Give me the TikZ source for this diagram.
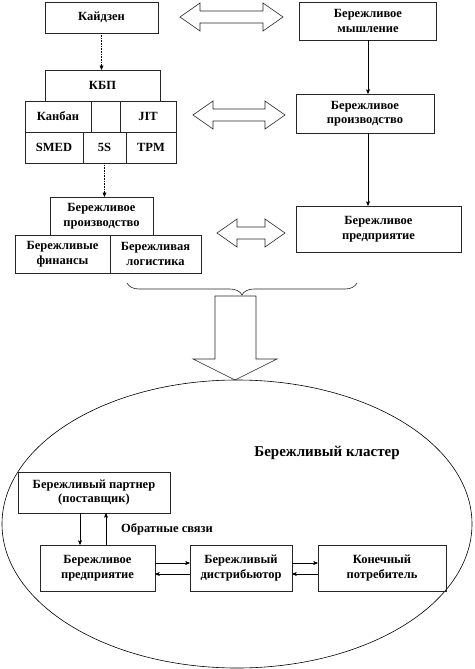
\documentclass[tikz,border=0pt]{standalone}
\usepackage{fontspec}
\setmainfont{Liberation Serif}
\usetikzlibrary{arrows,decorations.pathreplacing}

\begin{document}
\begin{tikzpicture}[>=stealth',x=1pt,y=-1pt,line width=0.6pt,
  main node/.style={rectangle,draw=black!85,
    font=\fontsize{12.5}{14.5}\selectfont\bfseries,align=center,inner sep=1pt},
  cell node/.style={main node,minimum height=31pt},
  wide node/.style={main node,minimum height=38pt}]
  \useasboundingbox (0,0) rectangle (474,669);

  % kaizen side
  \node[cell node, minimum width=113pt] (Kaizen) at (101.5,17.5) {Кайдзен};
  \node[cell node, minimum width=115pt] (KBP) at (102.5,85.5) {КБП};
  \node[cell node, minimum width=66pt] (Kanban) at (58,116.5) {Канбан};
  \node[cell node, minimum width=29pt] (Blank) at (105.5,116.5) {};
  \node[cell node, minimum width=56pt] (JIT) at (148,116.5) {JIT};
  \node[cell node, minimum width=58pt] (SMED) at (54,147.5) {SMED};
  \node[cell node, minimum width=43pt] (FiveS) at (104.5,147.5) {5S};
  \node[cell node, minimum width=50pt] (TPM) at (151,147.5) {TPM};
  \node[wide node, minimum width=103pt] (ProdL) at (101.5,216) {Бережливое\\производство};
  \node[wide node, minimum width=95pt] (Finance) at (62.5,254) {Бережливые\\финансы};
  \node[wide node, minimum width=91pt] (Logistics) at (155.5,254) {Бережливая\\логистика};

  % lean side
  \node[wide node, minimum width=137pt] (Thinking) at (368,21) {Бережливое\\мышление};
  \node[wide node, minimum width=138pt, minimum height=39pt] (ProdR) at (365,113.5) {Бережливое\\производство};
  \node[wide node, minimum width=165pt, minimum height=46pt] (Enterprise) at (378.5,229) {Бережливое\\предприятие};

  % cluster
  \draw (237,524) ellipse [x radius=235pt, y radius=144pt];
  \node[font=\fontsize{15}{17}\selectfont\bfseries] (Cluster) at (327,453) {Бережливый кластер};
  \node[main node, minimum width=152pt, minimum height=41pt] (Partner) at (94,492.5) {Бережливый партнер\\(поставщик)};
  \node[main node, minimum width=115pt, minimum height=46pt] (EntB) at (97.5,568) {Бережливое\\предприятие};
  \node[main node, minimum width=102pt, minimum height=46pt] (Distr) at (241,568) {Бережливый\\дистрибьютор};
  \node[main node, minimum width=128pt, minimum height=46pt] (Consumer) at (382,568) {Конечный\\потребитель};
  \node[font=\fontsize{12.5}{14.5}\selectfont\bfseries] (Feedback) at (167,529) {Обратные связи};

  % double arrows
  \foreach \xa/\xb/\yc in {180/283/17, 193/285/115, 217/285/233}
    \draw[draw=black!85,fill=white] (\xa,\yc) -- (\xa+20,\yc-14) -- (\xa+20,\yc-6)
      -- (\xb-20,\yc-6) -- (\xb-20,\yc-14) -- (\xb,\yc) -- (\xb-20,\yc+14)
      -- (\xb-20,\yc+6) -- (\xa+20,\yc+6) -- (\xa+20,\yc+14) -- cycle;

  % brace and big arrow
  \draw[draw=black!85,decorate,decoration={brace,mirror,amplitude=12pt}] (127,283) -- (357,283);
  \draw[draw=black!85] (215,296) -- (215,359) -- (193,359) -- (235,380) -- (277,359)
    -- (256,359) -- (256,296) -- cycle;

  \path[->,densely dotted]
    (Kaizen.south) edge (Kaizen.south |- KBP.north)
    (FiveS.south) edge (FiveS.south |- ProdL.north);
  \path[->]
    (Thinking.south) edge (Thinking.south |- ProdR.north)
    (ProdR.south -| Thinking.south) edge (Thinking.south |- Enterprise.north)
    ([xshift=-14pt]Partner.south) edge ([xshift=-14pt]Partner.south |- EntB.north)
    ([xshift=12pt]Partner.south |- EntB.north) edge ([xshift=12pt]Partner.south)
    ([yshift=5pt]EntB.east) edge ([yshift=5pt]Distr.west)
    ([yshift=-6pt]Distr.west) edge ([yshift=-6pt]EntB.east)
    ([yshift=5pt]Distr.east) edge ([yshift=5pt]Consumer.west)
    ([yshift=-6pt]Consumer.west) edge ([yshift=-6pt]Distr.east);
\end{tikzpicture}
\end{document}
